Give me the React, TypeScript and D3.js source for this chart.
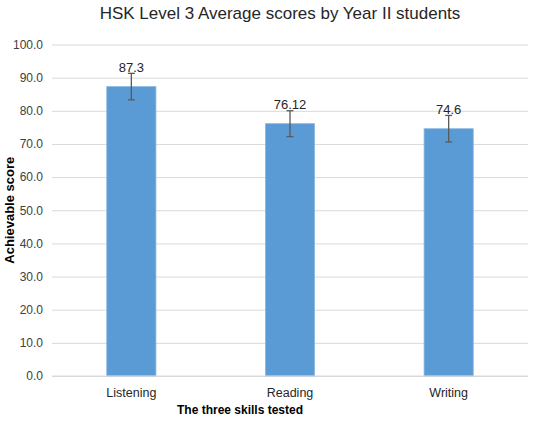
import { useEffect, useRef } from "react"
import * as d3 from "d3"

const skills = ["Listening", "Reading", "Writing"]
const averages = [87.3, 76.12, 74.6]
const errors = [4.0, 3.9, 4.0]
const valueLabels = ["87.3", "76.12", "74.6"]
const yTicks = [0, 10, 20, 30, 40, 50, 60, 70, 80, 90, 100]

const W = 549
const H = 421

export default function App() {
  const svgRef = useRef<SVGSVGElement>(null)

  useEffect(() => {
    if (!svgRef.current) return
    const svg = d3.select(svgRef.current)
    svg.selectAll("*").remove()

    const margin = { top: 44.5, right: 21, bottom: 45, left: 52 }
    const width = W - margin.left - margin.right
    const height = H - margin.top - margin.bottom
    const font = "Liberation Sans, Arial, sans-serif"

    const g = svg.append("g").attr("transform", `translate(${margin.left},${margin.top})`)

    const x = d3.scaleBand().domain(skills).range([0, width]).padding(0)
    const y = d3.scaleLinear().domain([0, 100]).range([height, 0])
    const barW = x.bandwidth() * 0.31

    // grid lines
    g.append("g")
      .call(d3.axisLeft(y).tickValues(yTicks).tickSize(-width).tickFormat(() => ""))
      .call((a) => a.select(".domain").remove())
      .call((a) => a.selectAll("line").attr("stroke", "#d9d9d9").attr("stroke-width", 1))

    // y tick labels
    g.append("g")
      .call(d3.axisLeft(y).tickValues(yTicks).tickSize(0).tickPadding(9).tickFormat((d) => d3.format(".1f")(d as number)))
      .call((a) => a.select(".domain").remove())
      .call((a) =>
        a.selectAll("text").attr("fill", "#404040").style("font-family", font).style("font-size", "12px"),
      )

    // bars
    g.selectAll("rect.bar")
      .data(averages)
      .join("rect")
      .attr("class", "bar")
      .attr("x", (_, i) => (x(skills[i]) ?? 0) + x.bandwidth() / 2 - barW / 2)
      .attr("y", (d) => y(d))
      .attr("width", barW)
      .attr("height", (d) => height - y(d))
      .attr("fill", "#5b9bd5")
      .attr("stroke", "#8db8e2")
      .attr("stroke-width", 0.8)

    // error bars
    const eb = g.selectAll("g.err").data(averages).join("g").attr("class", "err")
    const cx = (i: number) => (x(skills[i]) ?? 0) + x.bandwidth() / 2
    eb.append("line")
      .attr("x1", (_, i) => cx(i))
      .attr("x2", (_, i) => cx(i))
      .attr("y1", (d, i) => y(d + errors[i]))
      .attr("y2", (d, i) => y(d - errors[i]))
    eb.append("line")
      .attr("x1", (_, i) => cx(i) - 3.5)
      .attr("x2", (_, i) => cx(i) + 3.5)
      .attr("y1", (d, i) => y(d + errors[i]))
      .attr("y2", (d, i) => y(d + errors[i]))
    eb.append("line")
      .attr("x1", (_, i) => cx(i) - 3.5)
      .attr("x2", (_, i) => cx(i) + 3.5)
      .attr("y1", (d, i) => y(d - errors[i]))
      .attr("y2", (d, i) => y(d - errors[i]))
    eb.selectAll("line").attr("stroke", "#595959").attr("stroke-width", 1.3)

    // value labels
    g.selectAll("text.val")
      .data(averages)
      .join("text")
      .attr("class", "val")
      .attr("x", (_, i) => cx(i))
      .attr("y", (d) => y(d) - 15)
      .attr("text-anchor", "middle")
      .style("font-family", font)
      .style("font-size", "13px")
      .attr("fill", "#262626")
      .text((_, i) => valueLabels[i])

    // x axis baseline + category labels
    g.append("line")
      .attr("x1", 0)
      .attr("x2", width)
      .attr("y1", height)
      .attr("y2", height)
      .attr("stroke", "#d9d9d9")
    g.append("g")
      .attr("transform", `translate(0,${height})`)
      .call(d3.axisBottom(x).tickSize(0).tickPadding(12))
      .call((a) => a.select(".domain").remove())
      .call((a) =>
        a.selectAll("text").attr("fill", "#262626").style("font-family", font).style("font-size", "12.5px"),
      )

    // title
    svg.append("text")
      .attr("x", 280)
      .attr("y", 19)
      .attr("text-anchor", "middle")
      .style("font-family", font)
      .style("font-size", "17px")
      .attr("fill", "#262626")
      .text("HSK Level 3 Average scores by Year II students")

    // axis titles
    svg.append("text")
      .attr("transform", `translate(9,${margin.top + height / 2}) rotate(-90)`)
      .attr("text-anchor", "middle")
      .attr("dy", "0.35em")
      .style("font-family", font)
      .style("font-size", "13px")
      .style("font-weight", "bold")
      .attr("fill", "#000")
      .text("Achievable score")

    svg.append("text")
      .attr("x", 240)
      .attr("y", 414)
      .attr("text-anchor", "middle")
      .style("font-family", font)
      .style("font-size", "12px")
      .style("font-weight", "bold")
      .attr("fill", "#000")
      .text("The three skills tested")
  }, [])

  return (
    <svg
      ref={svgRef}
      width={W}
      height={H}
      style={{ position: "absolute", left: 0, top: 0, background: "#fff" }}
    />
  )
}
